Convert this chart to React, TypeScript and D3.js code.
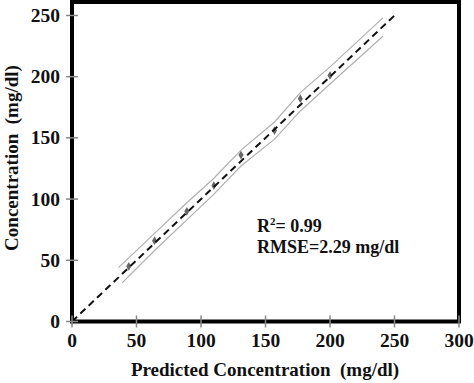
import React from "react";
import * as d3 from "d3";

const xTicks = [0, 50, 100, 150, 200, 250, 300];
const yTicks = [0, 50, 100, 150, 200, 250];
const predicted = [44, 64, 89, 110, 131, 157, 177, 200];
const measured = [45, 66, 90, 111, 136, 156, 182, 201];
const upperX = [36, 44, 64, 89, 110, 131, 157, 177, 200, 241];
const upperY = [44, 52, 72, 97, 117, 140, 163, 187, 208, 248];
const lowerX = [39, 44, 64, 89, 110, 131, 157, 177, 200, 241];
const lowerY = [31.5, 37, 58, 83, 104, 127, 149, 172, 194, 233];
const idealLine = [0, 250];

const W = 474;
const H = 383;
const FONT = "'Liberation Serif', 'Times New Roman', serif";

export default function App() {
  const x = d3.scaleLinear().domain([0, 300]).range([72, 459]);
  const y = d3.scaleLinear().domain([0, 261]).range([321.5, 2]);
  const line = d3
    .line<[number, number]>()
    .x((d) => x(d[0]))
    .y((d) => y(d[1]));
  const upper = line(upperX.map((v, i) => [v, upperY[i]] as [number, number]));
  const lower = line(lowerX.map((v, i) => [v, lowerY[i]] as [number, number]));
  const ideal = line(idealLine.map((v) => [v, v] as [number, number]));
  const [x0, x1] = x.range();
  const [y0, y1] = y.range();

  return (
    <svg
      width={W}
      height={H}
      style={{ position: "absolute", left: 0, top: 0, background: "#fff" }}
      fontFamily={FONT}
    >
      <rect x={0} y={0} width={W} height={H} fill="#fff" />
      <path d={upper || ""} fill="none" stroke="#b0b0b0" strokeWidth={1.2} />
      <path d={lower || ""} fill="none" stroke="#b0b0b0" strokeWidth={1.2} />
      {predicted.map((p, i) => (
        <path
          key={i}
          d={d3.symbol(d3.symbolDiamond, 22)() || ""}
          transform={`translate(${x(p)},${y(measured[i])})`}
          fill="#666"
        />
      ))}
      <path
        d={ideal || ""}
        fill="none"
        stroke="#111"
        strokeWidth={2}
        strokeDasharray="7,4.5"
      />
      <rect
        x={x0}
        y={y1}
        width={x1 - x0}
        height={y0 - y1}
        fill="none"
        stroke="#000"
        strokeWidth={4}
      />
      {xTicks.map((t) => (
        <g key={"x" + t}>
          <line x1={x(t)} x2={x(t)} y1={y0 - 6} y2={y0 + 6} stroke="#888" strokeWidth={1.5} />
          <text
            x={x(t)}
            y={347}
            textAnchor="middle"
            fontSize={19.5}
            fontWeight="bold"
            fill="#111"
          >
            {t}
          </text>
        </g>
      ))}
      {yTicks.map((t) => (
        <g key={"y" + t}>
          <line x1={x0 - 6} x2={x0 + 6} y1={y(t)} y2={y(t)} stroke="#888" strokeWidth={1.5} />
          <text
            x={60}
            y={y(t) + 6.5}
            textAnchor="end"
            fontSize={19.5}
            fontWeight="bold"
            fill="#111"
          >
            {t}
          </text>
        </g>
      ))}
      <text
        x={265}
        y={376}
        textAnchor="middle"
        fontSize={19}
        fontWeight="bold"
        fill="#111"
        style={{ whiteSpace: "pre" }}
      >
        {"Predicted Concentration  (mg/dl)"}
      </text>
      <text
        transform="translate(18,158) rotate(-90)"
        textAnchor="middle"
        fontSize={19}
        fontWeight="bold"
        fill="#111"
        style={{ whiteSpace: "pre" }}
      >
        {"Concentration  (mg/dl)"}
      </text>
      <text x={257} y={232} fontSize={18} fontWeight="bold" fill="#111">
        R<tspan dy={-7} fontSize={11}>2</tspan>
        <tspan dy={7}>= 0.99</tspan>
      </text>
      <text x={257} y={253} fontSize={18} fontWeight="bold" fill="#111">
        RMSE=2.29 mg/dl
      </text>
    </svg>
  );
}
